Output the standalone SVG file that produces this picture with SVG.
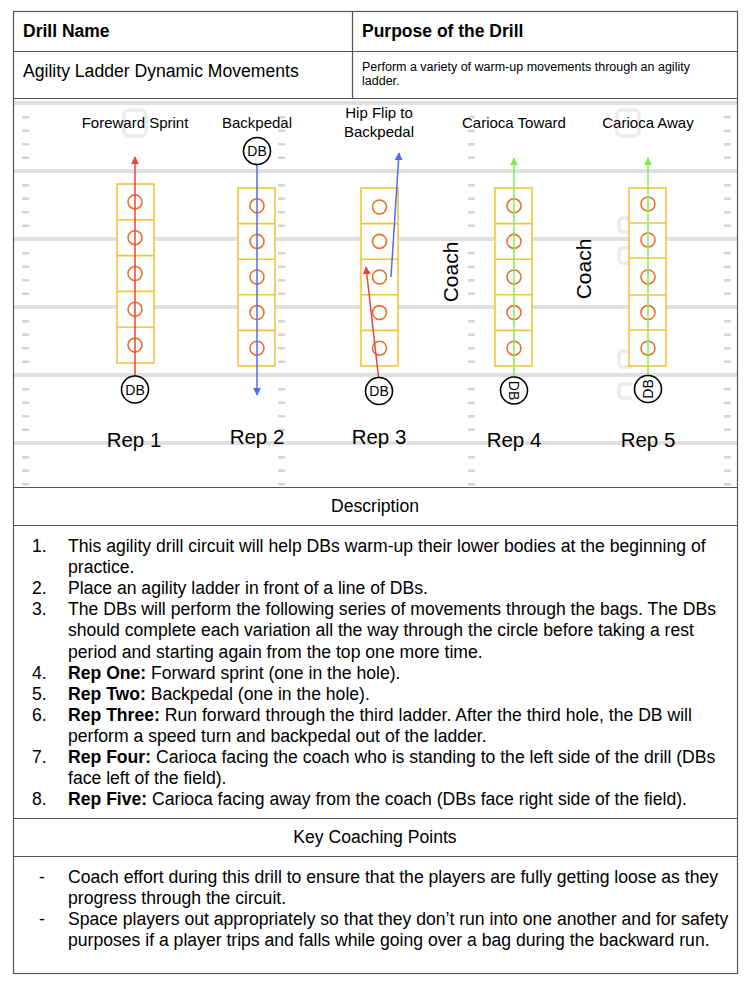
<svg xmlns="http://www.w3.org/2000/svg" width="750" height="983" viewBox="0 0 750 983">
<style>
text{font-family:"Liberation Sans",Arial,sans-serif;fill:#000}
.hd{font-size:17.5px;font-weight:bold}
.b{font-size:17.6px}
.lbl{font-size:15px;text-anchor:middle}
.rep{font-size:20.5px;text-anchor:middle}
.coach{font-size:21px;text-anchor:middle}
.db{font-size:14px;text-anchor:middle}
.tbl{stroke:#555;stroke-width:1.2;fill:none}
.yl{stroke:#e0e0e0;stroke-width:4}
.lad{fill:#fff;stroke:#f2c53d;stroke-width:1.6}
.rung{stroke:#f2c53d;stroke-width:1.6}
.dot{fill:none;stroke:#e8702a;stroke-width:1.6}
.ghost{fill:none;stroke:#ececec;stroke-width:3.5}
.dbc{fill:#fff;stroke:#000;stroke-width:1.6}
</style>
<defs>
<pattern id="hash" patternUnits="userSpaceOnUse" x="0" y="103" width="750" height="68">
<g fill="#d4d4d4">
<rect x="22" y="13" width="7" height="2.5"/><rect x="22" y="26.5" width="7" height="2.5"/><rect x="22" y="40" width="7" height="2.5"/><rect x="22" y="53.5" width="7" height="2.5"/>
<rect x="278" y="13" width="7" height="2.5"/><rect x="278" y="26.5" width="7" height="2.5"/><rect x="278" y="40" width="7" height="2.5"/><rect x="278" y="53.5" width="7" height="2.5"/>
<rect x="468" y="13" width="7" height="2.5"/><rect x="468" y="26.5" width="7" height="2.5"/><rect x="468" y="40" width="7" height="2.5"/><rect x="468" y="53.5" width="7" height="2.5"/>
<rect x="724" y="13" width="7" height="2.5"/><rect x="724" y="26.5" width="7" height="2.5"/><rect x="724" y="40" width="7" height="2.5"/><rect x="724" y="53.5" width="7" height="2.5"/>
</g>
</pattern>
<marker id="ar" viewBox="0 0 10 10" refX="9" refY="5" markerWidth="8" markerHeight="8" markerUnits="userSpaceOnUse" orient="auto"><path d="M0,0 L10,5 L0,10 z" fill="#e8453c"/></marker>
<marker id="ab" viewBox="0 0 10 10" refX="9" refY="5" markerWidth="8" markerHeight="8" markerUnits="userSpaceOnUse" orient="auto"><path d="M0,0 L10,5 L0,10 z" fill="#4f6cf7"/></marker>
<marker id="ag" viewBox="0 0 10 10" refX="9" refY="5" markerWidth="8" markerHeight="8" markerUnits="userSpaceOnUse" orient="auto"><path d="M0,0 L10,5 L0,10 z" fill="#7ef04c"/></marker>
</defs>
<rect width="750" height="983" fill="#fff"/>

<!-- field -->
<g id="field">
<rect x="14" y="99" width="723" height="388" fill="url(#hash)"/>
<g class="yl">
<line x1="14" y1="103" x2="737" y2="103"/>
<line x1="14" y1="171" x2="737" y2="171"/>
<line x1="14" y1="239" x2="737" y2="239"/>
<line x1="14" y1="307" x2="737" y2="307"/>
<line x1="14" y1="375" x2="737" y2="375"/>
<line x1="14" y1="443" x2="737" y2="443"/>
</g>
<rect class="ghost" x="124" y="110" width="22" height="26" rx="5"/>
<rect class="ghost" x="617" y="110" width="22" height="26" rx="5"/>
<path class="ghost" d="M634,218 H623 Q619,218 619,222 V228 Q619,232 623,232 H634"/>
<path class="ghost" d="M634,248 H623 Q619,248 619,252 V259 Q619,263 623,263 H634"/>
<path class="ghost" d="M632,351 H623 Q619,351 619,355 V363 Q619,367 623,367 H632"/>
<path class="ghost" d="M632,384 H623 Q619,384 619,388 V394 Q619,398 623,398 H632"/>
</g>

<!-- ladders -->
<g id="ladder1">
<rect class="lad" x="117" y="184" width="37" height="179"/>
<path class="rung" d="M117,219.8H154M117,255.6H154M117,291.4H154M117,327.2H154"/>
<circle class="dot" cx="135" cy="201.9" r="7"/><circle class="dot" cx="135" cy="237.7" r="7"/><circle class="dot" cx="135" cy="273.5" r="7"/><circle class="dot" cx="135" cy="309.3" r="7"/><circle class="dot" cx="135" cy="345.1" r="7"/>
</g>
<g id="ladder2">
<rect class="lad" x="238" y="188" width="37" height="178"/>
<path class="rung" d="M238,223.6H275M238,259.2H275M238,294.8H275M238,330.4H275"/>
<circle class="dot" cx="257" cy="205.8" r="7"/><circle class="dot" cx="257" cy="241.4" r="7"/><circle class="dot" cx="257" cy="277" r="7"/><circle class="dot" cx="257" cy="312.6" r="7"/><circle class="dot" cx="257" cy="348.2" r="7"/>
</g>
<g id="ladder3">
<rect class="lad" x="361" y="188" width="37" height="178"/>
<path class="rung" d="M361,223.6H398M361,259.2H398M361,294.8H398M361,330.4H398"/>
<circle class="dot" cx="379.5" cy="207" r="7"/><circle class="dot" cx="379.5" cy="241.4" r="7"/><circle class="dot" cx="379.5" cy="277" r="7"/><circle class="dot" cx="379.5" cy="312.6" r="7"/><circle class="dot" cx="379.5" cy="348.2" r="7"/>
</g>
<g id="ladder4">
<rect class="lad" x="495" y="188" width="37" height="178"/>
<path class="rung" d="M495,223.6H532M495,259.2H532M495,294.8H532M495,330.4H532"/>
<circle class="dot" cx="514" cy="205.8" r="7"/><circle class="dot" cx="514" cy="241.4" r="7"/><circle class="dot" cx="514" cy="277" r="7"/><circle class="dot" cx="514" cy="312.6" r="7"/><circle class="dot" cx="514" cy="348.2" r="7"/>
</g>
<g id="ladder5">
<rect class="lad" x="629" y="188" width="37" height="178"/>
<path class="rung" d="M629,223H666M629,258H666M629,295H666M629,330H666"/>
<circle class="dot" cx="648" cy="204" r="7"/><circle class="dot" cx="648" cy="240" r="7"/><circle class="dot" cx="648" cy="277" r="7"/><circle class="dot" cx="648" cy="312.6" r="7"/><circle class="dot" cx="648" cy="348.2" r="7"/>
</g>

<!-- connectors -->
<g id="connectors" fill="none" stroke-width="1.5">
<line x1="135" y1="376" x2="135" y2="157" stroke="#e8453c" marker-end="url(#ar)"/>
<line x1="257" y1="164" x2="257" y2="395" stroke="#4f6cf7" marker-end="url(#ab)"/>
<line x1="378.5" y1="377" x2="366" y2="267" stroke="#e8453c" marker-end="url(#ar)"/>
<line x1="391" y1="277" x2="399" y2="153" stroke="#4f6cf7" marker-end="url(#ab)"/>
<line x1="514" y1="377" x2="514" y2="158" stroke="#7ef04c" marker-end="url(#ag)"/>
<line x1="648" y1="376" x2="648" y2="158" stroke="#7ef04c" marker-end="url(#ag)"/>
</g>

<!-- players -->
<g id="db1"><circle class="dbc" cx="135" cy="389.5" r="13.5"/><text class="db" x="135" y="394.5">DB</text></g>
<g id="db2"><circle class="dbc" cx="257" cy="151" r="13.5"/><text class="db" x="257" y="156">DB</text></g>
<g id="db3"><circle class="dbc" cx="379" cy="391" r="13.5" stroke-width="1"/><text class="db" x="379" y="396" fill="#222">DB</text></g>
<g id="db4"><circle class="dbc" cx="514" cy="390.5" r="13.5"/><text class="db" transform="translate(514,390.5) rotate(90)" x="0" y="5">DB</text></g>
<g id="db5"><circle class="dbc" cx="648" cy="389" r="13.5"/><text class="db" transform="translate(648,389) rotate(-90)" x="0" y="5">DB</text></g>

<!-- labels -->
<g id="labels">
<text class="lbl" x="135" y="128">Foreward Sprint</text>
<text class="lbl" x="257" y="128">Backpedal</text>
<text class="lbl" x="379" y="118">Hip Flip to</text>
<text class="lbl" x="379" y="137">Backpedal</text>
<text class="lbl" x="514" y="128">Carioca Toward</text>
<text class="lbl" x="648" y="128">Carioca Away</text>
<text class="rep" x="134" y="447">Rep 1</text>
<text class="rep" x="257" y="444">Rep 2</text>
<text class="rep" x="379" y="444">Rep 3</text>
<text class="rep" x="514" y="447">Rep 4</text>
<text class="rep" x="648" y="447">Rep 5</text>
<text class="coach" transform="translate(458,272) rotate(-90)">Coach</text>
<text class="coach" transform="translate(591,269) rotate(-90)">Coach</text>
</g>

<!-- table -->
<g id="table">
<rect class="tbl" x="13.5" y="11.5" width="724" height="962"/>
<line class="tbl" x1="13.5" y1="51.5" x2="737.5" y2="51.5"/>
<line class="tbl" x1="13.5" y1="98.5" x2="737.5" y2="98.5"/>
<line class="tbl" x1="352.5" y1="11.5" x2="352.5" y2="98.5"/>
<line class="tbl" x1="13.5" y1="487.5" x2="737.5" y2="487.5"/>
<line class="tbl" x1="13.5" y1="525.5" x2="737.5" y2="525.5"/>
<line class="tbl" x1="13.5" y1="818.5" x2="737.5" y2="818.5"/>
<line class="tbl" x1="13.5" y1="856.5" x2="737.5" y2="856.5"/>
</g>
<g id="header">
<text class="hd" x="23" y="37">Drill Name</text>
<text class="hd" x="362" y="37">Purpose of the Drill</text>
<text class="b" x="23" y="77">Agility Ladder Dynamic Movements</text>
<text x="362" y="71" font-size="12.5">Perform a variety of warm-up movements through an agility</text>
<text x="362" y="85" font-size="12.5">ladder.</text>
</g>
<g id="description" class="b">
<text class="b" x="375" y="512" text-anchor="middle">Description</text>
<text class="b" x="32" y="552">1.</text>
<text class="b" x="68" y="552">This agility drill circuit will help DBs warm-up their lower bodies at the beginning of</text>
<text class="b" x="68" y="573.1">practice.</text>
<text class="b" x="32" y="594.2">2.</text>
<text class="b" x="68" y="594.2">Place an agility ladder in front of a line of DBs.</text>
<text class="b" x="32" y="615.3">3.</text>
<text class="b" x="68" y="615.3">The DBs will perform the following series of movements through the bags. The DBs</text>
<text class="b" x="68" y="636.4">should complete each variation all the way through the circle before taking a rest</text>
<text class="b" x="68" y="657.5">period and starting again from the top one more time.</text>
<text class="b" x="32" y="678.6">4.</text>
<text class="b" x="68" y="678.6"><tspan font-weight="bold">Rep One:</tspan> Forward sprint (one in the hole).</text>
<text class="b" x="32" y="699.7">5.</text>
<text class="b" x="68" y="699.7"><tspan font-weight="bold">Rep Two:</tspan> Backpedal (one in the hole).</text>
<text class="b" x="32" y="720.8">6.</text>
<text class="b" x="68" y="720.8"><tspan font-weight="bold">Rep Three:</tspan> Run forward through the third ladder. After the third hole, the DB will</text>
<text class="b" x="68" y="741.9">perform a speed turn and backpedal out of the ladder.</text>
<text class="b" x="32" y="763">7.</text>
<text class="b" x="68" y="763"><tspan font-weight="bold">Rep Four:</tspan> Carioca facing the coach who is standing to the left side of the drill (DBs</text>
<text class="b" x="68" y="784.1">face left of the field).</text>
<text class="b" x="32" y="805.2">8.</text>
<text class="b" x="68" y="805.2"><tspan font-weight="bold">Rep Five:</tspan> Carioca facing away from the coach (DBs face right side of the field).</text>
</g>
<g id="coaching">
<text class="b" x="375" y="843" text-anchor="middle">Key Coaching Points</text>
<text class="b" x="39" y="883">-</text>
<text class="b" x="68" y="883">Coach effort during this drill to ensure that the players are fully getting loose as they</text>
<text class="b" x="68" y="904">progress through the circuit.</text>
<text class="b" x="39" y="925">-</text>
<text class="b" x="68" y="925">Space players out appropriately so that they don’t run into one another and for safety</text>
<text class="b" x="68" y="946">purposes if a player trips and falls while going over a bag during the backward run.</text>
</g>
</svg>
